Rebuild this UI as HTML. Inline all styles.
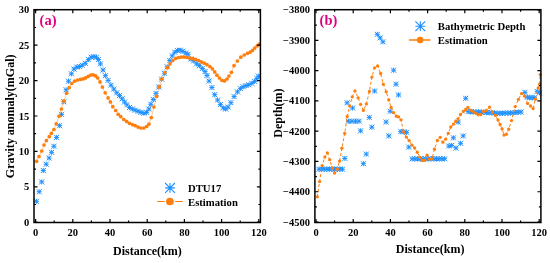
<!DOCTYPE html>
<html><head><meta charset="utf-8"><style>
html,body{margin:0;padding:0;background:#fff;}
svg{display:block;will-change:transform;}
text{font-family:"Liberation Serif",serif;font-weight:bold;}
</style></head><body>
<svg width="550" height="263" viewBox="0 0 550 263">
<rect width="550" height="263" fill="#fff"/>
<path fill="none" stroke="#1E90FF" stroke-width="1" d="M33.90 201.30H38.90M36.40 198.80V203.80M33.90 198.80L38.90 203.80M33.90 203.80L38.90 198.80M36.70 191.70H41.70M39.20 189.20V194.20M36.70 189.20L41.70 194.20M36.70 194.20L41.70 189.20M39.20 181.90H44.20M41.70 179.40V184.40M39.20 179.40L44.20 184.40M39.20 184.40L44.20 179.40M40.80 170.50H45.80M43.30 168.00V173.00M40.80 168.00L45.80 173.00M40.80 173.00L45.80 168.00M43.70 164.20H48.70M46.20 161.70V166.70M43.70 161.70L48.70 166.70M43.70 166.70L48.70 161.70M46.60 158.00H51.60M49.10 155.50V160.50M46.60 155.50L51.60 160.50M46.60 160.50L51.60 155.50M49.10 152.30H54.10M51.60 149.80V154.80M49.10 149.80L54.10 154.80M49.10 154.80L54.10 149.80M51.40 146.30H56.40M53.90 143.80V148.80M51.40 143.80L56.40 148.80M51.40 148.80L56.40 143.80M54.10 137.40H59.10M56.60 134.90V139.90M54.10 134.90L59.10 139.90M54.10 139.90L59.10 134.90M57.10 125.70H62.10M59.60 123.20V128.20M57.10 123.20L62.10 128.20M57.10 128.20L62.10 123.20M59.00 114.30H64.00M61.50 111.80V116.80M59.00 111.80L64.00 116.80M59.00 116.80L64.00 111.80M61.30 101.80H66.30M63.80 99.30V104.30M61.30 99.30L66.30 104.30M61.30 104.30L66.30 99.30M63.60 89.80H68.60M66.10 87.30V92.30M63.60 87.30L68.60 92.30M63.60 92.30L68.60 87.30M66.00 81.20H71.00M68.50 78.70V83.70M66.00 78.70L71.00 83.70M66.00 83.70L71.00 78.70M68.90 73.80H73.90M71.40 71.30V76.30M68.90 71.30L73.90 76.30M68.90 76.30L73.90 71.30M71.50 69.00H76.50M74.00 66.50V71.50M71.50 66.50L76.50 71.50M71.50 71.50L76.50 66.50M74.30 67.10H79.30M76.80 64.60V69.60M74.30 64.60L79.30 69.60M74.30 69.60L79.30 64.60M77.10 66.50H82.10M79.60 64.00V69.00M77.10 64.00L82.10 69.00M77.10 69.00L82.10 64.00M79.80 65.20H84.80M82.30 62.70V67.70M79.80 62.70L84.80 67.70M79.80 67.70L84.80 62.70M82.80 63.30H87.80M85.30 60.80V65.80M82.80 60.80L87.80 65.80M82.80 65.80L87.80 60.80M85.90 59.60H90.90M88.40 57.10V62.10M85.90 57.10L90.90 62.10M85.90 62.10L90.90 57.10M88.70 57.20H93.70M91.20 54.70V59.70M88.70 54.70L93.70 59.70M88.70 59.70L93.70 54.70M91.40 56.60H96.40M93.90 54.10V59.10M91.40 54.10L96.40 59.10M91.40 59.10L96.40 54.10M93.90 57.30H98.90M96.40 54.80V59.80M93.90 54.80L98.90 59.80M93.90 59.80L98.90 54.80M95.90 59.50H100.90M98.40 57.00V62.00M95.90 57.00L100.90 62.00M95.90 62.00L100.90 57.00M97.90 63.90H102.90M100.40 61.40V66.40M97.90 61.40L102.90 66.40M97.90 66.40L102.90 61.40M100.50 70.00H105.50M103.00 67.50V72.50M100.50 67.50L105.50 72.50M100.50 72.50L105.50 67.50M102.90 75.70H107.90M105.40 73.20V78.20M102.90 73.20L107.90 78.20M102.90 78.20L107.90 73.20M105.60 80.40H110.60M108.10 77.90V82.90M105.60 77.90L110.60 82.90M105.60 82.90L110.60 77.90M108.50 85.20H113.50M111.00 82.70V87.70M108.50 82.70L113.50 87.70M108.50 87.70L113.50 82.70M111.30 89.00H116.30M113.80 86.50V91.50M111.30 86.50L116.30 91.50M111.30 91.50L116.30 86.50M114.20 92.80H119.20M116.70 90.30V95.30M114.20 90.30L119.20 95.30M114.20 95.30L119.20 90.30M117.00 95.60H122.00M119.50 93.10V98.10M117.00 93.10L122.00 98.10M117.00 98.10L122.00 93.10M119.70 98.80H124.70M122.20 96.30V101.30M119.70 96.30L124.70 101.30M119.70 101.30L124.70 96.30M122.00 102.00H127.00M124.50 99.50V104.50M122.00 99.50L127.00 104.50M122.00 104.50L127.00 99.50M124.40 104.80H129.40M126.90 102.30V107.30M124.40 102.30L129.40 107.30M124.40 107.30L129.40 102.30M127.00 107.50H132.00M129.50 105.00V110.00M127.00 105.00L132.00 110.00M127.00 110.00L132.00 105.00M129.90 109.00H134.90M132.40 106.50V111.50M129.90 106.50L134.90 111.50M129.90 111.50L134.90 106.50M132.70 110.20H137.70M135.20 107.70V112.70M132.70 107.70L137.70 112.70M132.70 112.70L137.70 107.70M135.60 111.30H140.60M138.10 108.80V113.80M135.60 108.80L140.60 113.80M135.60 113.80L140.60 108.80M138.40 112.40H143.40M140.90 109.90V114.90M138.40 109.90L143.40 114.90M138.40 114.90L143.40 109.90M141.30 113.20H146.30M143.80 110.70V115.70M141.30 110.70L146.30 115.70M141.30 115.70L146.30 110.70M144.10 112.40H149.10M146.60 109.90V114.90M144.10 109.90L149.10 114.90M144.10 114.90L149.10 109.90M146.40 109.00H151.40M148.90 106.50V111.50M146.40 106.50L151.40 111.50M146.40 111.50L151.40 106.50M148.30 104.30H153.30M150.80 101.80V106.80M148.30 101.80L153.30 106.80M148.30 106.80L153.30 101.80M150.80 99.50H155.80M153.30 97.00V102.00M150.80 97.00L155.80 102.00M150.80 102.00L155.80 97.00M153.50 93.40H158.50M156.00 90.90V95.90M153.50 90.90L158.50 95.90M153.50 95.90L158.50 90.90M156.40 87.00H161.40M158.90 84.50V89.50M156.40 84.50L161.40 89.50M156.40 89.50L161.40 84.50M159.10 79.20H164.10M161.60 76.70V81.70M159.10 76.70L164.10 81.70M159.10 81.70L164.10 76.70M162.00 73.30H167.00M164.50 70.80V75.80M162.00 70.80L167.00 75.80M162.00 75.80L167.00 70.80M164.70 66.80H169.70M167.20 64.30V69.30M164.70 64.30L169.70 69.30M164.70 69.30L169.70 64.30M167.30 60.50H172.30M169.80 58.00V63.00M167.30 58.00L172.30 63.00M167.30 63.00L172.30 58.00M169.70 55.80H174.70M172.20 53.30V58.30M169.70 53.30L174.70 58.30M169.70 58.30L174.70 53.30M172.30 52.30H177.30M174.80 49.80V54.80M172.30 49.80L177.30 54.80M172.30 54.80L177.30 49.80M175.00 50.60H180.00M177.50 48.10V53.10M175.00 48.10L180.00 53.10M175.00 53.10L180.00 48.10M177.80 50.20H182.80M180.30 47.70V52.70M177.80 47.70L182.80 52.70M177.80 52.70L182.80 47.70M180.50 51.30H185.50M183.00 48.80V53.80M180.50 48.80L185.50 53.80M180.50 53.80L185.50 48.80M183.30 53.00H188.30M185.80 50.50V55.50M183.30 50.50L188.30 55.50M183.30 55.50L188.30 50.50M185.50 54.30H190.50M188.00 51.80V56.80M185.50 51.80L190.50 56.80M185.50 56.80L190.50 51.80M188.40 59.00H193.40M190.90 56.50V61.50M188.40 56.50L193.40 61.50M188.40 61.50L193.40 56.50M191.20 60.90H196.20M193.70 58.40V63.40M191.20 58.40L196.20 63.40M191.20 63.40L196.20 58.40M194.10 63.80H199.10M196.60 61.30V66.30M194.10 61.30L199.10 66.30M194.10 66.30L199.10 61.30M196.90 65.70H201.90M199.40 63.20V68.20M196.90 63.20L201.90 68.20M196.90 68.20L201.90 63.20M199.80 68.50H204.80M202.30 66.00V71.00M199.80 66.00L204.80 71.00M199.80 71.00L204.80 66.00M202.50 71.60H207.50M205.00 69.10V74.10M202.50 69.10L207.50 74.10M202.50 74.10L207.50 69.10M204.50 75.50H209.50M207.00 73.00V78.00M204.50 73.00L209.50 78.00M204.50 78.00L209.50 73.00M206.50 81.00H211.50M209.00 78.50V83.50M206.50 78.50L211.50 83.50M206.50 83.50L211.50 78.50M209.40 87.50H214.40M211.90 85.00V90.00M209.40 85.00L214.40 90.00M209.40 90.00L214.40 85.00M212.20 94.70H217.20M214.70 92.20V97.20M212.20 92.20L217.20 97.20M212.20 97.20L217.20 92.20M215.10 100.00H220.10M217.60 97.50V102.50M215.10 97.50L220.10 102.50M215.10 102.50L220.10 97.50M217.90 104.60H222.90M220.40 102.10V107.10M217.90 102.10L222.90 107.10M217.90 107.10L222.90 102.10M220.80 108.00H225.80M223.30 105.50V110.50M220.80 105.50L225.80 110.50M220.80 110.50L225.80 105.50M223.20 109.00H228.20M225.70 106.50V111.50M223.20 106.50L228.20 111.50M223.20 111.50L228.20 106.50M225.50 107.10H230.50M228.00 104.60V109.60M225.50 104.60L230.50 109.60M225.50 109.60L230.50 104.60M228.40 102.70H233.40M230.90 100.20V105.20M228.40 100.20L233.40 105.20M228.40 105.20L233.40 100.20M231.60 96.60H236.60M234.10 94.10V99.10M231.60 94.10L236.60 99.10M231.60 99.10L236.60 94.10M235.00 91.90H240.00M237.50 89.40V94.40M235.00 89.40L240.00 94.40M235.00 94.40L240.00 89.40M237.90 88.60H242.90M240.40 86.10V91.10M237.90 86.10L242.90 91.10M237.90 91.10L242.90 86.10M240.70 86.70H245.70M243.20 84.20V89.20M240.70 84.20L245.70 89.20M240.70 89.20L245.70 84.20M243.60 85.60H248.60M246.10 83.10V88.10M243.60 83.10L248.60 88.10M243.60 88.10L248.60 83.10M246.40 84.80H251.40M248.90 82.30V87.30M246.40 82.30L251.40 87.30M246.40 87.30L251.40 82.30M249.30 83.30H254.30M251.80 80.80V85.80M249.30 80.80L254.30 85.80M249.30 85.80L254.30 80.80M252.10 81.40H257.10M254.60 78.90V83.90M252.10 78.90L257.10 83.90M252.10 83.90L257.10 78.90M254.40 78.60H259.40M256.90 76.10V81.10M254.40 76.10L259.40 81.10M254.40 81.10L259.40 76.10M255.90 76.10H260.90M258.40 73.60V78.60M255.90 73.60L260.90 78.60M255.90 78.60L260.90 73.60"/>
<polyline fill="none" stroke="#FF7F0E" stroke-width="0.6" stroke-opacity="0.7" points="36.6,161.3 39.0,156.5 41.7,151.0 44.0,145.0 46.4,140.6 49.3,136.6 51.4,133.3 53.9,129.5 56.2,123.8 59.1,116.2 61.4,109.0 63.8,101.2 66.6,93.2 69.2,87.7 71.8,83.5 74.6,81.2 77.6,80.0 80.3,79.4 83.0,78.9 85.6,77.9 88.2,76.4 90.8,75.1 93.2,74.8 95.6,75.9 97.8,78.0 100.0,81.9 102.4,87.1 105.2,92.8 108.1,97.9 110.4,101.9 112.8,106.7 115.7,110.5 118.2,114.3 120.8,116.7 123.8,119.5 126.7,121.4 129.5,123.3 132.4,124.6 135.2,125.7 138.1,127.1 140.9,128.0 143.8,128.0 146.6,126.5 148.9,124.2 151.3,117.6 153.9,107.0 156.6,96.3 159.3,86.8 161.8,79.0 164.8,72.7 167.5,67.6 170.0,63.8 172.8,60.5 175.7,58.4 178.5,57.5 181.4,57.1 184.2,57.1 187.1,57.5 189.9,58.1 192.8,58.6 195.6,59.4 198.5,60.5 201.3,61.9 204.2,63.2 207.0,64.7 209.9,66.6 212.4,68.8 214.7,71.9 216.9,75.2 219.4,78.0 221.9,80.3 224.5,80.9 227.0,79.0 228.9,76.1 231.4,72.3 234.0,65.7 237.4,61.0 240.8,57.2 244.2,55.0 247.5,53.3 250.2,52.1 252.5,50.4 254.8,48.1 257.2,45.8 259.3,44.0"/>
<g fill="#FF7F0E"><circle cx="36.6" cy="161.3" r="1.85"/><circle cx="39.0" cy="156.5" r="1.85"/><circle cx="41.7" cy="151.0" r="1.85"/><circle cx="44.0" cy="145.0" r="1.85"/><circle cx="46.4" cy="140.6" r="1.85"/><circle cx="49.3" cy="136.6" r="1.85"/><circle cx="51.4" cy="133.3" r="1.85"/><circle cx="53.9" cy="129.5" r="1.85"/><circle cx="56.2" cy="123.8" r="1.85"/><circle cx="59.1" cy="116.2" r="1.85"/><circle cx="61.4" cy="109.0" r="1.85"/><circle cx="63.8" cy="101.2" r="1.85"/><circle cx="66.6" cy="93.2" r="1.85"/><circle cx="69.2" cy="87.7" r="1.85"/><circle cx="71.8" cy="83.5" r="1.85"/><circle cx="74.6" cy="81.2" r="1.85"/><circle cx="77.6" cy="80.0" r="1.85"/><circle cx="80.3" cy="79.4" r="1.85"/><circle cx="83.0" cy="78.9" r="1.85"/><circle cx="85.6" cy="77.9" r="1.85"/><circle cx="88.2" cy="76.4" r="1.85"/><circle cx="90.8" cy="75.1" r="1.85"/><circle cx="93.2" cy="74.8" r="1.85"/><circle cx="95.6" cy="75.9" r="1.85"/><circle cx="97.8" cy="78.0" r="1.85"/><circle cx="100.0" cy="81.9" r="1.85"/><circle cx="102.4" cy="87.1" r="1.85"/><circle cx="105.2" cy="92.8" r="1.85"/><circle cx="108.1" cy="97.9" r="1.85"/><circle cx="110.4" cy="101.9" r="1.85"/><circle cx="112.8" cy="106.7" r="1.85"/><circle cx="115.7" cy="110.5" r="1.85"/><circle cx="118.2" cy="114.3" r="1.85"/><circle cx="120.8" cy="116.7" r="1.85"/><circle cx="123.8" cy="119.5" r="1.85"/><circle cx="126.7" cy="121.4" r="1.85"/><circle cx="129.5" cy="123.3" r="1.85"/><circle cx="132.4" cy="124.6" r="1.85"/><circle cx="135.2" cy="125.7" r="1.85"/><circle cx="138.1" cy="127.1" r="1.85"/><circle cx="140.9" cy="128.0" r="1.85"/><circle cx="143.8" cy="128.0" r="1.85"/><circle cx="146.6" cy="126.5" r="1.85"/><circle cx="148.9" cy="124.2" r="1.85"/><circle cx="151.3" cy="117.6" r="1.85"/><circle cx="153.9" cy="107.0" r="1.85"/><circle cx="156.6" cy="96.3" r="1.85"/><circle cx="159.3" cy="86.8" r="1.85"/><circle cx="161.8" cy="79.0" r="1.85"/><circle cx="164.8" cy="72.7" r="1.85"/><circle cx="167.5" cy="67.6" r="1.85"/><circle cx="170.0" cy="63.8" r="1.85"/><circle cx="172.8" cy="60.5" r="1.85"/><circle cx="175.7" cy="58.4" r="1.85"/><circle cx="178.5" cy="57.5" r="1.85"/><circle cx="181.4" cy="57.1" r="1.85"/><circle cx="184.2" cy="57.1" r="1.85"/><circle cx="187.1" cy="57.5" r="1.85"/><circle cx="189.9" cy="58.1" r="1.85"/><circle cx="192.8" cy="58.6" r="1.85"/><circle cx="195.6" cy="59.4" r="1.85"/><circle cx="198.5" cy="60.5" r="1.85"/><circle cx="201.3" cy="61.9" r="1.85"/><circle cx="204.2" cy="63.2" r="1.85"/><circle cx="207.0" cy="64.7" r="1.85"/><circle cx="209.9" cy="66.6" r="1.85"/><circle cx="212.4" cy="68.8" r="1.85"/><circle cx="214.7" cy="71.9" r="1.85"/><circle cx="216.9" cy="75.2" r="1.85"/><circle cx="219.4" cy="78.0" r="1.85"/><circle cx="221.9" cy="80.3" r="1.85"/><circle cx="224.5" cy="80.9" r="1.85"/><circle cx="227.0" cy="79.0" r="1.85"/><circle cx="228.9" cy="76.1" r="1.85"/><circle cx="231.4" cy="72.3" r="1.85"/><circle cx="234.0" cy="65.7" r="1.85"/><circle cx="237.4" cy="61.0" r="1.85"/><circle cx="240.8" cy="57.2" r="1.85"/><circle cx="244.2" cy="55.0" r="1.85"/><circle cx="247.5" cy="53.3" r="1.85"/><circle cx="250.2" cy="52.1" r="1.85"/><circle cx="252.5" cy="50.4" r="1.85"/><circle cx="254.8" cy="48.1" r="1.85"/><circle cx="257.2" cy="45.8" r="1.85"/><circle cx="259.3" cy="44.0" r="1.85"/></g>
<rect x="34" y="9.7" width="226.39999999999998" height="212.8" fill="none" stroke="#000" stroke-width="1.5"/>
<path d="M35.60 222.5v-3.5M35.60 9.7v3.5M72.80 222.5v-3.5M72.80 9.7v3.5M110.00 222.5v-3.5M110.00 9.7v3.5M147.20 222.5v-3.5M147.20 9.7v3.5M184.40 222.5v-3.5M184.40 9.7v3.5M221.60 222.5v-3.5M221.60 9.7v3.5M258.80 222.5v-3.5M258.80 9.7v3.5M54.20 222.5v-2M54.20 9.7v2M91.40 222.5v-2M91.40 9.7v2M128.60 222.5v-2M128.60 9.7v2M165.80 222.5v-2M165.80 9.7v2M203.00 222.5v-2M203.00 9.7v2M240.20 222.5v-2M240.20 9.7v2M34 222.20h3.5M260.4 222.20h-3.5M34 186.80h3.5M260.4 186.80h-3.5M34 151.40h3.5M260.4 151.40h-3.5M34 116.00h3.5M260.4 116.00h-3.5M34 80.60h3.5M260.4 80.60h-3.5M34 45.20h3.5M260.4 45.20h-3.5M34 9.80h3.5M260.4 9.80h-3.5M34 204.50h2M260.4 204.50h-2M34 169.10h2M260.4 169.10h-2M34 133.70h2M260.4 133.70h-2M34 98.30h2M260.4 98.30h-2M34 62.90h2M260.4 62.90h-2M34 27.50h2M260.4 27.50h-2" stroke="#000" stroke-width="1.2" fill="none"/>
<text x="35.60" y="235.8" font-size="10.5" text-anchor="middle">0</text>
<text x="72.80" y="235.8" font-size="10.5" text-anchor="middle">20</text>
<text x="110.00" y="235.8" font-size="10.5" text-anchor="middle">40</text>
<text x="147.20" y="235.8" font-size="10.5" text-anchor="middle">60</text>
<text x="184.40" y="235.8" font-size="10.5" text-anchor="middle">80</text>
<text x="221.60" y="235.8" font-size="10.5" text-anchor="middle">100</text>
<text x="258.80" y="235.8" font-size="10.5" text-anchor="middle">120</text>
<text x="29.2" y="225.80" font-size="10.5" text-anchor="end">0</text>
<text x="29.2" y="190.40" font-size="10.5" text-anchor="end">5</text>
<text x="29.2" y="155.00" font-size="10.5" text-anchor="end">10</text>
<text x="29.2" y="119.60" font-size="10.5" text-anchor="end">15</text>
<text x="29.2" y="84.20" font-size="10.5" text-anchor="end">20</text>
<text x="29.2" y="48.80" font-size="10.5" text-anchor="end">25</text>
<text x="29.2" y="13.40" font-size="10.5" text-anchor="end">30</text>
<text x="147.4" y="255.3" font-size="12" text-anchor="middle">Distance(km)</text>
<text transform="translate(13.5 116.35) rotate(-90)" font-size="12" text-anchor="middle">Gravity anomaly(mGal)</text>
<text x="39.6" y="24.7" font-size="14.5" fill="#E0007F">(a)</text>
<path fill="none" stroke="#1E90FF" stroke-width="1.1" d="M165.10 187.90H174.90M170.00 183.00V192.80M165.10 183.00L174.90 192.80M165.10 192.80L174.90 183.00"/>
<path stroke="#FF7F0E" stroke-width="1.2" d="M157.2 201.5H164.8M175.1 201.5H182.8"/><circle cx="169.9" cy="201.5" r="3.85" fill="#FF7F0E"/>
<text x="188" y="192.2" font-size="10.7">DTU17</text>
<text x="188" y="205.5" font-size="10.7">Estimation</text>
<path fill="none" stroke="#1E90FF" stroke-width="1" d="M316.50 169.20H321.50M319.00 166.70V171.70M316.50 166.70L321.50 171.70M316.50 171.70L321.50 166.70M319.10 169.20H324.10M321.60 166.70V171.70M319.10 166.70L324.10 171.70M319.10 171.70L324.10 166.70M321.70 169.20H326.70M324.20 166.70V171.70M321.70 166.70L326.70 171.70M321.70 171.70L326.70 166.70M324.30 169.20H329.30M326.80 166.70V171.70M324.30 166.70L329.30 171.70M324.30 171.70L329.30 166.70M326.90 169.20H331.90M329.40 166.70V171.70M326.90 166.70L331.90 171.70M326.90 171.70L331.90 166.70M329.50 169.20H334.50M332.00 166.70V171.70M329.50 166.70L334.50 171.70M329.50 171.70L334.50 166.70M332.10 169.20H337.10M334.60 166.70V171.70M332.10 166.70L337.10 171.70M332.10 171.70L337.10 166.70M334.70 169.20H339.70M337.20 166.70V171.70M334.70 166.70L339.70 171.70M334.70 171.70L339.70 166.70M337.30 169.20H342.30M339.80 166.70V171.70M337.30 166.70L342.30 171.70M337.30 171.70L342.30 166.70M339.90 169.20H344.90M342.40 166.70V171.70M339.90 166.70L344.90 171.70M339.90 171.70L344.90 166.70M342.30 158.40H347.30M344.80 155.90V160.90M342.30 155.90L347.30 160.90M342.30 160.90L347.30 155.90M344.60 102.80H349.60M347.10 100.30V105.30M344.60 100.30L349.60 105.30M344.60 105.30L349.60 100.30M350.10 108.00H355.10M352.60 105.50V110.50M350.10 105.50L355.10 110.50M350.10 110.50L355.10 105.50M345.80 121.20H350.80M348.30 118.70V123.70M345.80 118.70L350.80 123.70M345.80 123.70L350.80 118.70M349.40 121.20H354.40M351.90 118.70V123.70M349.40 118.70L354.40 123.70M349.40 123.70L354.40 118.70M353.00 121.20H358.00M355.50 118.70V123.70M353.00 118.70L358.00 123.70M353.00 123.70L358.00 118.70M356.50 121.20H361.50M359.00 118.70V123.70M356.50 118.70L361.50 123.70M356.50 123.70L361.50 118.70M358.10 130.80H363.10M360.60 128.30V133.30M358.10 128.30L363.10 133.30M358.10 133.30L363.10 128.30M360.90 163.70H365.90M363.40 161.20V166.20M360.90 161.20L365.90 166.20M360.90 166.20L365.90 161.20M363.80 154.10H368.80M366.30 151.60V156.60M363.80 151.60L368.80 156.60M363.80 156.60L368.80 151.60M366.80 117.40H371.80M369.30 114.90V119.90M366.80 114.90L371.80 119.90M366.80 119.90L371.80 114.90M369.30 127.20H374.30M371.80 124.70V129.70M369.30 124.70L374.30 129.70M369.30 129.70L374.30 124.70M372.10 91.00H377.10M374.60 88.50V93.50M372.10 88.50L377.10 93.50M372.10 93.50L377.10 88.50M374.80 34.30H379.80M377.30 31.80V36.80M374.80 31.80L379.80 36.80M374.80 36.80L379.80 31.80M377.60 37.90H382.60M380.10 35.40V40.40M377.60 35.40L382.60 40.40M377.60 40.40L382.60 35.40M380.40 41.80H385.40M382.90 39.30V44.30M380.40 39.30L385.40 44.30M380.40 44.30L385.40 39.30M383.60 122.00H388.60M386.10 119.50V124.50M383.60 119.50L388.60 124.50M383.60 124.50L388.60 119.50M386.30 135.90H391.30M388.80 133.40V138.40M386.30 133.40L391.30 138.40M386.30 138.40L391.30 133.40M387.70 111.30H392.70M390.20 108.80V113.80M387.70 108.80L392.70 113.80M387.70 113.80L392.70 108.80M391.10 70.20H396.10M393.60 67.70V72.70M391.10 67.70L396.10 72.70M391.10 72.70L396.10 67.70M393.50 84.20H398.50M396.00 81.70V86.70M393.50 81.70L398.50 86.70M393.50 86.70L398.50 81.70M396.00 94.90H401.00M398.50 92.40V97.40M396.00 92.40L401.00 97.40M396.00 97.40L401.00 92.40M398.30 131.60H403.30M400.80 129.10V134.10M398.30 129.10L403.30 134.10M398.30 134.10L403.30 129.10M401.30 131.80H406.30M403.80 129.30V134.30M401.30 129.30L406.30 134.30M401.30 134.30L406.30 129.30M404.10 132.30H409.10M406.60 129.80V134.80M404.10 129.80L409.10 134.80M404.10 134.80L409.10 129.80M406.30 147.10H411.30M408.80 144.60V149.60M406.30 144.60L411.30 149.60M406.30 149.60L411.30 144.60M446.30 146.00H451.30M448.80 143.50V148.50M446.30 143.50L451.30 148.50M446.30 148.50L451.30 143.50M449.20 145.40H454.20M451.70 142.90V147.90M449.20 142.90L454.20 147.90M449.20 147.90L454.20 142.90M450.90 137.80H455.90M453.40 135.30V140.30M450.90 135.30L455.90 140.30M450.90 140.30L455.90 135.30M453.50 148.00H458.50M456.00 145.50V150.50M453.50 145.50L458.50 150.50M453.50 150.50L458.50 145.50M455.70 122.10H460.70M458.20 119.60V124.60M455.70 119.60L460.70 124.60M455.70 124.60L460.70 119.60M458.10 143.30H463.10M460.60 140.80V145.80M458.10 140.80L463.10 145.80M458.10 145.80L463.10 140.80M460.70 135.90H465.70M463.20 133.40V138.40M460.70 133.40L465.70 138.40M460.70 138.40L465.70 133.40M463.20 98.30H468.20M465.70 95.80V100.80M463.20 95.80L468.20 100.80M463.20 100.80L468.20 95.80M409.70 158.80H414.70M412.20 156.30V161.30M409.70 156.30L414.70 161.30M409.70 161.30L414.70 156.30M412.40 158.80H417.40M414.90 156.30V161.30M412.40 156.30L417.40 161.30M412.40 161.30L417.40 156.30M415.10 158.80H420.10M417.60 156.30V161.30M415.10 156.30L420.10 161.30M415.10 161.30L420.10 156.30M417.80 158.80H422.80M420.30 156.30V161.30M417.80 156.30L422.80 161.30M417.80 161.30L422.80 156.30M420.50 158.80H425.50M423.00 156.30V161.30M420.50 156.30L425.50 161.30M420.50 161.30L425.50 156.30M423.20 158.80H428.20M425.70 156.30V161.30M423.20 156.30L428.20 161.30M423.20 161.30L428.20 156.30M425.90 158.80H430.90M428.40 156.30V161.30M425.90 156.30L430.90 161.30M425.90 161.30L430.90 156.30M428.60 158.80H433.60M431.10 156.30V161.30M428.60 156.30L433.60 161.30M428.60 161.30L433.60 156.30M431.30 158.80H436.30M433.80 156.30V161.30M431.30 156.30L436.30 161.30M431.30 161.30L436.30 156.30M434.00 158.80H439.00M436.50 156.30V161.30M434.00 156.30L439.00 161.30M434.00 161.30L439.00 156.30M436.70 158.80H441.70M439.20 156.30V161.30M436.70 156.30L441.70 161.30M436.70 161.30L441.70 156.30M439.40 158.80H444.40M441.90 156.30V161.30M439.40 156.30L444.40 161.30M439.40 161.30L444.40 156.30M442.10 158.80H447.10M444.60 156.30V161.30M442.10 156.30L447.10 161.30M442.10 161.30L447.10 156.30M465.50 111.60H470.50M468.00 109.10V114.10M465.50 109.10L470.50 114.10M465.50 114.10L470.50 109.10M468.15 111.71H473.15M470.65 109.21V114.21M468.15 109.21L473.15 114.21M468.15 114.21L473.15 109.21M470.80 111.82H475.80M473.30 109.32V114.32M470.80 109.32L475.80 114.32M470.80 114.32L475.80 109.32M473.45 111.93H478.45M475.95 109.43V114.43M473.45 109.43L478.45 114.43M473.45 114.43L478.45 109.43M476.10 112.04H481.10M478.60 109.54V114.54M476.10 109.54L481.10 114.54M476.10 114.54L481.10 109.54M478.75 112.15H483.75M481.25 109.65V114.65M478.75 109.65L483.75 114.65M478.75 114.65L483.75 109.65M481.40 112.25H486.40M483.90 109.75V114.75M481.40 109.75L486.40 114.75M481.40 114.75L486.40 109.75M484.05 112.43H489.05M486.55 109.93V114.93M484.05 109.93L489.05 114.93M484.05 114.93L489.05 109.93M486.70 112.66H491.70M489.20 110.16V115.16M486.70 110.16L491.70 115.16M486.70 115.16L491.70 110.16M489.35 112.88H494.35M491.85 110.38V115.38M489.35 110.38L494.35 115.38M489.35 115.38L494.35 110.38M492.00 113.10H497.00M494.50 110.60V115.60M492.00 110.60L497.00 115.60M492.00 115.60L497.00 110.60M494.65 113.33H499.65M497.15 110.83V115.83M494.65 110.83L499.65 115.83M494.65 115.83L499.65 110.83M497.30 113.34H502.30M499.80 110.84V115.84M497.30 110.84L502.30 115.84M497.30 115.84L502.30 110.84M499.95 113.25H504.95M502.45 110.75V115.75M499.95 110.75L504.95 115.75M499.95 115.75L504.95 110.75M502.60 113.16H507.60M505.10 110.66V115.66M502.60 110.66L507.60 115.66M502.60 115.66L507.60 110.66M505.25 113.08H510.25M507.75 110.58V115.58M505.25 110.58L510.25 115.58M505.25 115.58L510.25 110.58M507.90 112.96H512.90M510.40 110.46V115.46M507.90 110.46L512.90 115.46M507.90 115.46L512.90 110.46M510.55 112.72H515.55M513.05 110.22V115.22M510.55 110.22L515.55 115.22M510.55 115.22L515.55 110.22M513.20 112.48H518.20M515.70 109.98V114.98M513.20 109.98L518.20 114.98M513.20 114.98L518.20 109.98M515.85 112.24H520.85M518.35 109.74V114.74M515.85 109.74L520.85 114.74M515.85 114.74L520.85 109.74M518.50 112.00H523.50M521.00 109.50V114.50M518.50 109.50L523.50 114.50M518.50 114.50L523.50 109.50M522.40 92.40H527.40M524.90 89.90V94.90M522.40 89.90L527.40 94.90M522.40 94.90L527.40 89.90M524.80 97.20H529.80M527.30 94.70V99.70M524.80 94.70L529.80 99.70M524.80 99.70L529.80 94.70M527.10 97.90H532.10M529.60 95.40V100.40M527.10 95.40L532.10 100.40M527.10 100.40L532.10 95.40M529.50 97.50H534.50M532.00 95.00V100.00M529.50 95.00L534.50 100.00M529.50 100.00L534.50 95.00M531.90 97.80H536.90M534.40 95.30V100.30M531.90 95.30L536.90 100.30M531.90 100.30L536.90 95.30M534.70 91.40H539.70M537.20 88.90V93.90M534.70 88.90L539.70 93.90M534.70 93.90L539.70 88.90M537.00 92.80H542.00M539.50 90.30V95.30M537.00 90.30L542.00 95.30M537.00 95.30L542.00 90.30"/>
<polyline fill="none" stroke="#FF7F0E" stroke-width="1" stroke-dasharray="3 2" points="317.3,196.8 319.6,181.6 322.1,165.7 324.8,157.1 327.4,152.9 329.7,159.7 332.3,168.0 334.6,173.0 337.3,169.2 339.6,161.1 341.9,148.2 344.7,133.3 347.2,116.5 349.7,106.1 352.3,96.8 355.0,90.9 358.1,97.8 360.6,104.3 363.4,110.4 366.4,103.9 369.4,91.5 371.9,77.1 374.6,67.8 377.6,65.9 380.7,73.5 383.3,84.2 386.2,91.8 388.8,100.0 391.1,107.4 393.6,112.6 396.3,116.2 398.6,116.9 401.0,119.8 403.5,131.6 406.3,137.1 409.1,140.6 412.0,145.1 414.6,148.0 417.3,152.3 420.0,157.3 422.2,160.5 424.5,160.3 427.1,155.1 429.4,159.2 431.9,158.8 434.5,149.2 437.4,140.4 440.2,137.3 442.9,142.2 445.6,139.2 448.3,133.3 450.8,127.0 453.5,124.1 455.7,121.3 458.0,119.0 460.5,114.5 463.4,111.4 465.7,109.4 467.9,107.4 470.6,110.2 473.1,111.4 475.6,113.1 478.2,114.8 480.8,114.5 483.5,111.4 486.4,110.4 489.6,107.1 492.4,112.0 495.4,115.4 498.0,120.0 500.1,124.5 502.1,129.0 504.0,135.1 506.4,134.2 508.7,129.2 511.5,120.6 515.2,106.6 518.4,99.4 521.5,93.6 524.6,96.2 527.6,103.4 530.5,106.0 533.1,108.5 535.4,99.2 538.2,88.0 539.5,84.1 540.2,74.6"/>
<g fill="#FF7F0E"><circle cx="317.3" cy="196.8" r="1.65"/><circle cx="319.6" cy="181.6" r="1.65"/><circle cx="322.1" cy="165.7" r="1.65"/><circle cx="324.8" cy="157.1" r="1.65"/><circle cx="327.4" cy="152.9" r="1.65"/><circle cx="329.7" cy="159.7" r="1.65"/><circle cx="332.3" cy="168.0" r="1.65"/><circle cx="334.6" cy="173.0" r="1.65"/><circle cx="337.3" cy="169.2" r="1.65"/><circle cx="339.6" cy="161.1" r="1.65"/><circle cx="341.9" cy="148.2" r="1.65"/><circle cx="344.7" cy="133.3" r="1.65"/><circle cx="347.2" cy="116.5" r="1.65"/><circle cx="349.7" cy="106.1" r="1.65"/><circle cx="352.3" cy="96.8" r="1.65"/><circle cx="355.0" cy="90.9" r="1.65"/><circle cx="358.1" cy="97.8" r="1.65"/><circle cx="360.6" cy="104.3" r="1.65"/><circle cx="363.4" cy="110.4" r="1.65"/><circle cx="366.4" cy="103.9" r="1.65"/><circle cx="369.4" cy="91.5" r="1.65"/><circle cx="371.9" cy="77.1" r="1.65"/><circle cx="374.6" cy="67.8" r="1.65"/><circle cx="377.6" cy="65.9" r="1.65"/><circle cx="380.7" cy="73.5" r="1.65"/><circle cx="383.3" cy="84.2" r="1.65"/><circle cx="386.2" cy="91.8" r="1.65"/><circle cx="388.8" cy="100.0" r="1.65"/><circle cx="391.1" cy="107.4" r="1.65"/><circle cx="393.6" cy="112.6" r="1.65"/><circle cx="396.3" cy="116.2" r="1.65"/><circle cx="398.6" cy="116.9" r="1.65"/><circle cx="401.0" cy="119.8" r="1.65"/><circle cx="403.5" cy="131.6" r="1.65"/><circle cx="406.3" cy="137.1" r="1.65"/><circle cx="409.1" cy="140.6" r="1.65"/><circle cx="412.0" cy="145.1" r="1.65"/><circle cx="414.6" cy="148.0" r="1.65"/><circle cx="417.3" cy="152.3" r="1.65"/><circle cx="420.0" cy="157.3" r="1.65"/><circle cx="422.2" cy="160.5" r="1.65"/><circle cx="424.5" cy="160.3" r="1.65"/><circle cx="427.1" cy="155.1" r="1.65"/><circle cx="429.4" cy="159.2" r="1.65"/><circle cx="431.9" cy="158.8" r="1.65"/><circle cx="434.5" cy="149.2" r="1.65"/><circle cx="437.4" cy="140.4" r="1.65"/><circle cx="440.2" cy="137.3" r="1.65"/><circle cx="442.9" cy="142.2" r="1.65"/><circle cx="445.6" cy="139.2" r="1.65"/><circle cx="448.3" cy="133.3" r="1.65"/><circle cx="450.8" cy="127.0" r="1.65"/><circle cx="453.5" cy="124.1" r="1.65"/><circle cx="455.7" cy="121.3" r="1.65"/><circle cx="458.0" cy="119.0" r="1.65"/><circle cx="460.5" cy="114.5" r="1.65"/><circle cx="463.4" cy="111.4" r="1.65"/><circle cx="465.7" cy="109.4" r="1.65"/><circle cx="467.9" cy="107.4" r="1.65"/><circle cx="470.6" cy="110.2" r="1.65"/><circle cx="473.1" cy="111.4" r="1.65"/><circle cx="475.6" cy="113.1" r="1.65"/><circle cx="478.2" cy="114.8" r="1.65"/><circle cx="480.8" cy="114.5" r="1.65"/><circle cx="483.5" cy="111.4" r="1.65"/><circle cx="486.4" cy="110.4" r="1.65"/><circle cx="489.6" cy="107.1" r="1.65"/><circle cx="492.4" cy="112.0" r="1.65"/><circle cx="495.4" cy="115.4" r="1.65"/><circle cx="498.0" cy="120.0" r="1.65"/><circle cx="500.1" cy="124.5" r="1.65"/><circle cx="502.1" cy="129.0" r="1.65"/><circle cx="504.0" cy="135.1" r="1.65"/><circle cx="506.4" cy="134.2" r="1.65"/><circle cx="508.7" cy="129.2" r="1.65"/><circle cx="511.5" cy="120.6" r="1.65"/><circle cx="515.2" cy="106.6" r="1.65"/><circle cx="518.4" cy="99.4" r="1.65"/><circle cx="521.5" cy="93.6" r="1.65"/><circle cx="524.6" cy="96.2" r="1.65"/><circle cx="527.6" cy="103.4" r="1.65"/><circle cx="530.5" cy="106.0" r="1.65"/><circle cx="533.1" cy="108.5" r="1.65"/><circle cx="535.4" cy="99.2" r="1.65"/><circle cx="538.2" cy="88.0" r="1.65"/><circle cx="539.5" cy="84.1" r="1.65"/><circle cx="540.2" cy="74.6" r="1.65"/></g>
<rect x="314.9" y="9.7" width="226.0" height="212.8" fill="none" stroke="#000" stroke-width="1.5"/>
<path d="M316.00 222.5v-3.5M316.00 9.7v3.5M353.20 222.5v-3.5M353.20 9.7v3.5M390.40 222.5v-3.5M390.40 9.7v3.5M427.60 222.5v-3.5M427.60 9.7v3.5M464.80 222.5v-3.5M464.80 9.7v3.5M502.00 222.5v-3.5M502.00 9.7v3.5M539.20 222.5v-3.5M539.20 9.7v3.5M334.60 222.5v-2M334.60 9.7v2M371.80 222.5v-2M371.80 9.7v2M409.00 222.5v-2M409.00 9.7v2M446.20 222.5v-2M446.20 9.7v2M483.40 222.5v-2M483.40 9.7v2M520.60 222.5v-2M520.60 9.7v2M314.9 10.00h3.5M540.9 10.00h-3.5M314.9 40.29h3.5M540.9 40.29h-3.5M314.9 70.58h3.5M540.9 70.58h-3.5M314.9 100.87h3.5M540.9 100.87h-3.5M314.9 131.16h3.5M540.9 131.16h-3.5M314.9 161.45h3.5M540.9 161.45h-3.5M314.9 191.74h3.5M540.9 191.74h-3.5M314.9 222.03h3.5M540.9 222.03h-3.5M314.9 25.14h2M540.9 25.14h-2M314.9 55.44h2M540.9 55.44h-2M314.9 85.72h2M540.9 85.72h-2M314.9 116.02h2M540.9 116.02h-2M314.9 146.31h2M540.9 146.31h-2M314.9 176.59h2M540.9 176.59h-2M314.9 206.88h2M540.9 206.88h-2" stroke="#000" stroke-width="1.2" fill="none"/>
<text x="316.00" y="235.8" font-size="10.5" text-anchor="middle">0</text>
<text x="353.20" y="235.8" font-size="10.5" text-anchor="middle">20</text>
<text x="390.40" y="235.8" font-size="10.5" text-anchor="middle">40</text>
<text x="427.60" y="235.8" font-size="10.5" text-anchor="middle">60</text>
<text x="464.80" y="235.8" font-size="10.5" text-anchor="middle">80</text>
<text x="502.00" y="235.8" font-size="10.5" text-anchor="middle">100</text>
<text x="539.20" y="235.8" font-size="10.5" text-anchor="middle">120</text>
<text x="310" y="12.90" font-size="10.5" text-anchor="end">−3800</text>
<text x="310" y="43.89" font-size="10.5" text-anchor="end">−3900</text>
<text x="310" y="74.18" font-size="10.5" text-anchor="end">−4000</text>
<text x="310" y="104.47" font-size="10.5" text-anchor="end">−4100</text>
<text x="310" y="134.76" font-size="10.5" text-anchor="end">−4200</text>
<text x="310" y="165.05" font-size="10.5" text-anchor="end">−4300</text>
<text x="310" y="195.34" font-size="10.5" text-anchor="end">−4400</text>
<text x="310" y="225.63" font-size="10.5" text-anchor="end">−4500</text>
<text x="430.1" y="252.6" font-size="12" text-anchor="middle">Distance(km)</text>
<text transform="translate(281.8 113.1) rotate(-90)" font-size="12" text-anchor="middle">Depth(m)</text>
<text x="319.6" y="24.7" font-size="14.5" fill="#E0007F">(b)</text>
<path fill="none" stroke="#1E90FF" stroke-width="1.1" d="M415.40 26.20H425.20M420.30 21.30V31.10M415.40 21.30L425.20 31.10M415.40 31.10L425.20 21.30"/>
<path stroke="#FF7F0E" stroke-width="1.5" d="M408.9 40H430.5"/><circle cx="420.2" cy="40" r="3.25" fill="#FF7F0E"/>
<text x="437.8" y="30.4" font-size="10.7">Bathymetric Depth</text>
<text x="437.8" y="43.8" font-size="10.7">Estimation</text>
</svg></body></html>
